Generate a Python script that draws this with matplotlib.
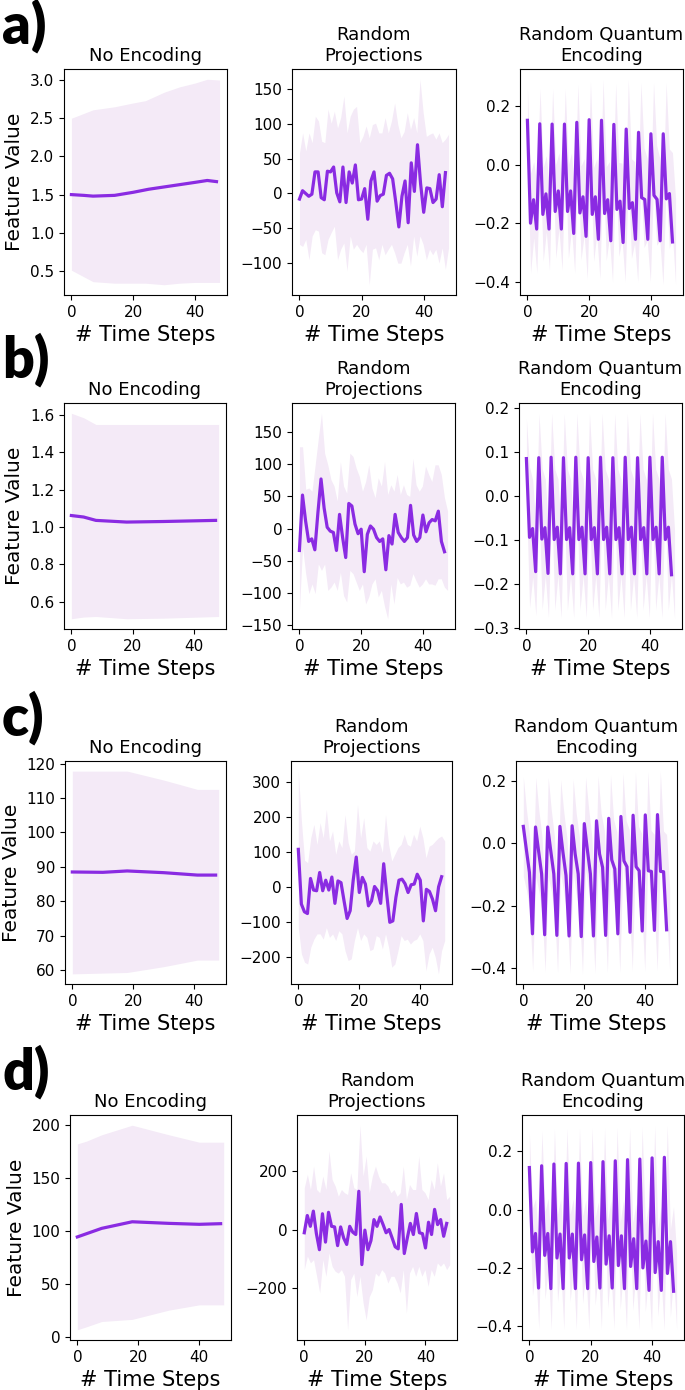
import numpy as np
import matplotlib
matplotlib.use("Agg")
import matplotlib.pyplot as plt
from matplotlib.ticker import MultipleLocator

# ---- data ----
steps = np.arange(48)

# a) ------------------------------------------------------------
a_none_x = [0, 4, 7, 14, 20, 25, 30, 35, 40, 44, 45, 47]
a_none_mean = [1.50, 1.49, 1.48, 1.49, 1.53, 1.57, 1.60, 1.63, 1.66, 1.685, 1.68, 1.67]
a_none_band_x = [0, 7, 14, 20, 24, 30, 35, 40, 44, 48]
a_none_hi = [2.50, 2.61, 2.65, 2.70, 2.73, 2.84, 2.91, 2.96, 3.01, 3.00]
a_none_lo = [0.51, 0.36, 0.34, 0.34, 0.34, 0.32, 0.34, 0.35, 0.35, 0.35]

a_rp_mean = [-8, 4, 0, -4, -1, 31, 31, -6, -9, 32, 31, 38, 1, -12, 38, -13, 31, 15, 41, -9,
             -8, 7, -37, 18, 31, -11, -3, -1, 26, 29, 21, -12, -48, -4, 18, -42, 44, 3, 70, 14,
             -27, 8, 7, -13, -8, 27, -19, 30]
a_rp_hi = [58, 87, 61, 87, 73, 111, 104, 75, 73, 121, 101, 118, 94, 109, 140, 87, 111, 121, 125, 73,
           82, 97, 80, 99, 101, 87, 87, 109, 87, 104, 130, 99, 80, 89, 116, 92, 109, 87, 164, 116,
           82, 85, 87, 78, 87, 73, 78, 85]
a_rp_lo = [-73, -76, -66, -95, -61, -52, -54, -85, -88, -66, -56, -47, -95, -80, -71, -111, -61, -80, -73, -80,
           -85, -73, -131, -80, -78, -95, -73, -88, -80, -73, -85, -100, -100, -85, -73, -104, -61, -90, -61, -73,
           -95, -80, -88, -80, -100, -78, -109, -78]

a_rq_mean = [0.151, -0.20, -0.12, -0.22, 0.139, -0.17, -0.10, -0.22, 0.138, -0.16, -0.09, -0.22,
             0.138, -0.16, -0.09, -0.235, 0.144, -0.165, -0.11, -0.245, 0.153, -0.17, -0.11, -0.255,
             0.151, -0.167, -0.12, -0.26, 0.137, -0.153, -0.125, -0.266, 0.121, -0.15, -0.13, -0.255,
             0.110, -0.113, -0.119, -0.255, 0.105, -0.105, -0.119, -0.26, 0.105, -0.117, -0.099, -0.264]
a_rq_std = [0.11, 0.17, 0.13, 0.15, 0.12, 0.16, 0.13, 0.14, 0.12, 0.16, 0.13, 0.14,
            0.12, 0.16, 0.13, 0.135, 0.13, 0.16, 0.13, 0.145, 0.13, 0.16, 0.13, 0.135,
            0.14, 0.16, 0.13, 0.14, 0.14, 0.16, 0.13, 0.134, 0.17, 0.17, 0.14, 0.145,
            0.17, 0.17, 0.14, 0.145, 0.175, 0.17, 0.14, 0.15, 0.175, 0.17, 0.14, 0.146]

# b) ------------------------------------------------------------
b_none_x = [0, 4, 8, 18, 30, 47]
b_none_mean = [1.062, 1.054, 1.036, 1.027, 1.030, 1.036]
b_none_band_x = [0, 4, 8, 18, 30, 48]
b_none_hi = [1.61, 1.586, 1.55, 1.55, 1.55, 1.55]
b_none_lo = [0.509, 0.518, 0.521, 0.509, 0.512, 0.521]

b_rp_mean = [-34, 52, 12, -20, -16, -33, 25, 77, 32, 2, -4, -6, -34, 22, -14, -45, 39, 35, 7, -8,
             -1, -67, -9, 4, -1, -14, -20, -16, -64, -11, -24, 22, -6, -14, -20, -14, 36, -10, -20, -14,
             21, -5, 9, 14, 12, 27, -20, -36]
b_rp_hi = [127, 127, 61, 63, 58, 99, 140, 179, 117, 99, 76, 66, 43, 104, 66, 55, 117, 112, 94, 81,
           58, 73, 99, 63, 48, 79, 66, 104, 53, 68, 58, 84, 53, 68, 53, 50, 109, 68, 58, 66,
           97, 84, 73, 99, 99, 84, 48, 27]
b_rp_lo = [-127, -29, -70, -101, -86, -101, -55, -65, -55, -96, -91, -83, -96, -68, -104, -114, -65, -70, -83, -96,
           -86, -117, -106, -86, -78, -106, -96, -121, -140, -86, -117, -76, -86, -83, -91, -88, -70, -81, -91, -86,
           -78, -86, -86, -88, -78, -78, -91, -96]

b_rq_mean = [0.084, -0.095, -0.075, -0.173, 0.086, -0.099, -0.073, -0.177, 0.087, -0.100, -0.072, -0.178,
             0.086, -0.100, -0.073, -0.178, 0.087, -0.100, -0.072, -0.178, 0.086, -0.100, -0.073, -0.178,
             0.087, -0.100, -0.072, -0.178, 0.086, -0.100, -0.073, -0.178, 0.087, -0.100, -0.072, -0.178,
             0.086, -0.100, -0.073, -0.178, 0.087, -0.100, -0.072, -0.178, 0.087, -0.100, -0.072, -0.180]
b_rq_std = [0.09, 0.16, 0.11, 0.10, 0.10, 0.16, 0.11, 0.10, 0.10, 0.16, 0.11, 0.10,
            0.10, 0.16, 0.11, 0.10, 0.10, 0.16, 0.11, 0.10, 0.10, 0.16, 0.11, 0.10,
            0.10, 0.16, 0.11, 0.10, 0.10, 0.16, 0.11, 0.10, 0.10, 0.16, 0.11, 0.10,
            0.10, 0.16, 0.11, 0.10, 0.10, 0.16, 0.11, 0.10, 0.10, 0.16, 0.11, 0.10]

# c) ------------------------------------------------------------
c_none_x = [0, 10, 18, 30, 41, 47]
c_none_mean = [88.5, 88.4, 88.8, 88.3, 87.6, 87.6]
c_none_band_x = [0, 18, 30, 41, 48]
c_none_hi = [117.8, 117.8, 115.2, 112.5, 112.5]
c_none_lo = [58.9, 59.3, 61.0, 62.9, 62.9]

c_rp_mean = [107, -49, -71, -76, 24, -9, -11, 41, -11, 19, -9, 28, -47, 17, 12, -40, -90, -68, 19, 85,
             -16, 27, 8, -54, -40, 1, -11, -47, 66, -21, -101, -97, -30, 19, 22, 9, -16, 6, 8, 36,
             19, -97, -7, -13, -35, -68, 0, 29]
c_rp_hi = [330, 187, 76, 69, 140, 178, 121, 183, 140, 221, 131, 159, 93, 131, 112, 206, 126, 93, 102, 235,
           140, 197, 112, 102, 131, 121, 131, 98, 206, 121, 74, 93, 112, 121, 150, 121, 116, 150, 131, 173,
           140, 83, 116, 121, 131, 140, 145, 131]
c_rp_lo = [-116, -191, -215, -220, -172, -149, -134, -134, -149, -116, -144, -134, -153, -125, -134, -182, -210, -205, -153, -116,
           -153, -134, -144, -182, -177, -139, -144, -177, -134, -172, -229, -220, -182, -139, -153, -149, -163, -153, -149, -134,
           -153, -239, -191, -172, -201, -248, -182, -153]

c_rq_mean = [0.055, -0.020, -0.093, -0.291, 0.053, -0.024, -0.098, -0.294, 0.053, -0.024, -0.098, -0.296,
             0.055, -0.029, -0.103, -0.298, 0.057, -0.034, -0.098, -0.300, 0.064, -0.020, -0.098, -0.298,
             0.073, -0.034, -0.077, -0.296, 0.081, -0.053, -0.082, -0.291, 0.087, -0.056, -0.075, -0.286,
             0.091, -0.075, -0.088, -0.282, 0.092, -0.088, -0.090, -0.280, 0.093, -0.090, -0.091, -0.278]
c_rq_std = [0.16, 0.13, 0.12, 0.12, 0.16, 0.13, 0.12, 0.12, 0.16, 0.13, 0.12, 0.12,
            0.15, 0.13, 0.12, 0.12, 0.15, 0.13, 0.12, 0.12, 0.15, 0.13, 0.12, 0.12,
            0.145, 0.13, 0.12, 0.12, 0.14, 0.13, 0.12, 0.125, 0.14, 0.13, 0.12, 0.125,
            0.14, 0.13, 0.12, 0.13, 0.14, 0.13, 0.12, 0.13, 0.14, 0.13, 0.12, 0.135]

# d) ------------------------------------------------------------
d_none_x = [0, 8, 18, 30, 40, 47]
d_none_mean = [94.7, 102.8, 109.0, 107.5, 106.6, 107.2]
d_none_band_x = [0, 3, 8, 18, 30, 40, 48]
d_none_hi = [182.4, 185, 191, 200, 191, 184, 184]
d_none_lo = [7.2, 10, 15, 17, 25.7, 30.7, 30.7]

d_rp_mean = [-11, 48, 11, 63, -14, -69, 54, -43, 59, 11, 9, -55, 9, -29, -51, 11, -9, -17, 131, -120,
             -2, -69, -38, 34, 11, 43, 17, -11, 0, -29, -59, -66, 86, -82, -29, 21, -17, 55, -11, -14,
             -63, 25, -17, 69, 17, 34, -23, 21]
d_rp_hi = [143, 189, 137, 217, 137, 126, 183, 137, 269, 171, 149, 114, 137, 126, 120, 194, 143, 137, 357, 183,
           251, 126, 183, 217, 183, 160, 160, 149, 126, 137, 114, 126, 217, 103, 154, 137, 137, 251, 137, 126,
           103, 171, 137, 229, 149, 194, 103, 114]
d_rp_lo = [-137, -91, -114, -103, -160, -217, -103, -160, -80, -126, -143, -149, -137, -160, -343, -171, -149, -229, -160, -250,
           -309, -230, -206, -149, -160, -137, -149, -183, -160, -160, -183, -217, -137, -286, -149, -126, -160, -126, -160, -137,
           -194, -137, -160, -114, -126, -114, -137, -120]

d_rq_mean = [0.144, -0.145, -0.082, -0.269, 0.150, -0.157, -0.082, -0.271, 0.156, -0.166, -0.084, -0.271,
             0.158, -0.166, -0.084, -0.271, 0.159, -0.172, -0.087, -0.271, 0.161, -0.178, -0.094, -0.269,
             0.164, -0.187, -0.090, -0.269, 0.167, -0.192, -0.090, -0.271, 0.171, -0.195, -0.100, -0.271,
             0.173, -0.200, -0.108, -0.277, 0.177, -0.216, -0.110, -0.277, 0.179, -0.219, -0.110, -0.280]
d_rq_std = [0.12, 0.15, 0.12, 0.14, 0.12, 0.15, 0.12, 0.14, 0.12, 0.15, 0.12, 0.14,
            0.12, 0.15, 0.12, 0.14, 0.12, 0.15, 0.12, 0.14, 0.12, 0.15, 0.12, 0.14,
            0.115, 0.15, 0.12, 0.14, 0.115, 0.15, 0.12, 0.14, 0.11, 0.15, 0.12, 0.14,
            0.11, 0.15, 0.12, 0.135, 0.11, 0.15, 0.12, 0.135, 0.11, 0.15, 0.12, 0.13]

titles = ["No Encoding", "Random\nProjections", "Random Quantum\nEncoding"]
row_letters = ["a)", "b)", "c)", "d)"]

LINE = "#8a2be2"
BAND = "#f4eaf7"
W, H = 685, 1390

# axes boxes in pixels (left, top, right, bottom) for each row
boxes = [
    [(64, 69, 227, 295), (292, 69, 456, 295), (520, 69, 683, 295)],
    [(64, 403, 226, 629), (292, 403, 455, 629), (519, 403, 682, 629)],
    [(65, 761, 226, 984), (291, 761, 452, 984), (516, 761, 677, 984)],
    [(70, 1115, 231, 1340), (297, 1115, 457, 1340), (522, 1115, 684, 1340)],
]
rp_tick_step = [50, 50, 100, 200]

rows = [
    (a_none_x, a_none_mean, a_none_band_x, a_none_hi, a_none_lo, a_rp_mean, a_rp_hi, a_rp_lo, a_rq_mean, a_rq_std),
    (b_none_x, b_none_mean, b_none_band_x, b_none_hi, b_none_lo, b_rp_mean, b_rp_hi, b_rp_lo, b_rq_mean, b_rq_std),
    (c_none_x, c_none_mean, c_none_band_x, c_none_hi, c_none_lo, c_rp_mean, c_rp_hi, c_rp_lo, c_rq_mean, c_rq_std),
    (d_none_x, d_none_mean, d_none_band_x, d_none_hi, d_none_lo, d_rp_mean, d_rp_hi, d_rp_lo, d_rq_mean, d_rq_std),
]

plt.rcParams["font.family"] = ["DejaVu Sans"]
plt.rcParams["xtick.labelsize"] = 11
plt.rcParams["ytick.labelsize"] = 11

fig = plt.figure(figsize=(W / 100, H / 100), dpi=100)

# the band of each panel spans a slightly wider x range than the mean line
band_steps = np.linspace(0, 48, 48)

for r, (nx, nm, nbx, nhi, nlo, rpm, rph, rpl, rqm, rqs) in enumerate(rows):
    axes = []
    for (l, t, rr, b) in boxes[r]:
        axes.append(fig.add_axes([l / W, 1 - b / H, (rr - l) / W, (b - t) / H]))

    ax = axes[0]
    ax.fill_between(nbx, nlo, nhi, color=BAND, linewidth=0)
    ax.plot(nx, nm, color=LINE, lw=2.3)
    ax.set_ylabel("Feature Value", fontsize=14.5, labelpad=4)

    ax = axes[1]
    ax.fill_between(band_steps, rpl, rph, color=BAND, linewidth=0)
    ax.plot(steps, rpm, color=LINE, lw=2.3)
    ax.yaxis.set_major_locator(MultipleLocator(rp_tick_step[r]))

    ax = axes[2]
    m = np.array(rqm)
    s = np.array(rqs)
    ax.fill_between(band_steps, m - s, m + s, color=BAND, linewidth=0)
    ax.plot(steps, m, color=LINE, lw=2.3)

    for ax, title in zip(axes, titles):
        ax.set_title(title, fontsize=13)
        ax.set_xlabel("# Time Steps", fontsize=15)
        ax.set_xticks([0, 20, 40])

    top = boxes[r][0][1]
    fig.text(2 / W, 1 - (top - 71) / H, row_letters[r], fontsize=40, fontweight="heavy",
             family=["Lato", "DejaVu Sans"], va="top", ha="left")

fig.savefig("out.png", dpi=100)
